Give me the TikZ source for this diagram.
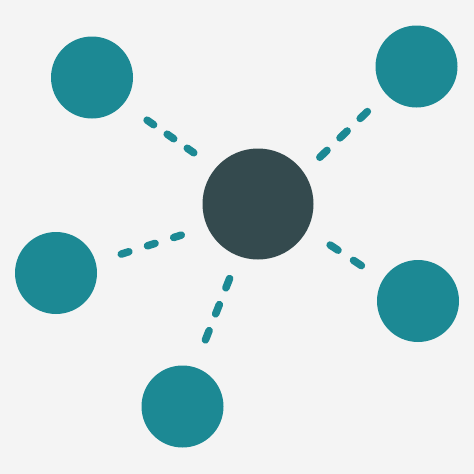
\documentclass[tikz,border=0pt]{standalone}
\definecolor{tealc}{RGB}{28,137,148}
\definecolor{darkc}{RGB}{52,74,78}
\definecolor{bgc}{RGB}{244,244,244}
\begin{document}
\begin{tikzpicture}[x=1pt,y=-1pt,
  outer/.style={circle,fill=tealc,inner sep=0pt,minimum size=82pt},
  hub/.style={circle,fill=darkc,inner sep=0pt,minimum size=111pt},
  dashlink/.style={draw=tealc,line width=7.5pt,line cap=round}]
\fill[bgc] (0,0) rectangle (474,474);
\useasboundingbox (0,0) rectangle (474,474);
\node[hub] (c) at (258,204) {};
\node[outer] (tl) at (92,77.5) {};
\node[outer] (tr) at (416.5,66.5) {};
\node[outer] (l) at (56,273) {};
\node[outer] (b) at (182.5,406.5) {};
\node[outer] (r) at (418,301) {};
% dashed connectors (free ends as named coordinates)
\coordinate (tla) at (193.8,152.8); \coordinate (tlb) at (144,118);
\coordinate (tra) at (319.8,157.3); \coordinate (trb) at (369,110);
\coordinate (la) at (181.3,235.1);  \coordinate (lb) at (120,254.5);
\coordinate (ba) at (229.6,278.5);  \coordinate (bb) at (205,341);
\coordinate (ra) at (330.1,245.0);  \coordinate (rb) at (362,266);
\draw[dashlink,dash pattern=on 8pt off 16.5pt] (tla) -- (tlb);
\draw[dashlink,dash pattern=on 10pt off 18pt] (tra) -- (trb);
\draw[dashlink,dash pattern=on 8pt off 19.5pt] (la) -- (lb);
\draw[dashlink,dash pattern=on 10pt off 18pt] (ba) -- (bb);
\draw[dashlink,dash pattern=on 9.5pt off 18.5pt] (ra) -- (rb);
\end{tikzpicture}
\end{document}
